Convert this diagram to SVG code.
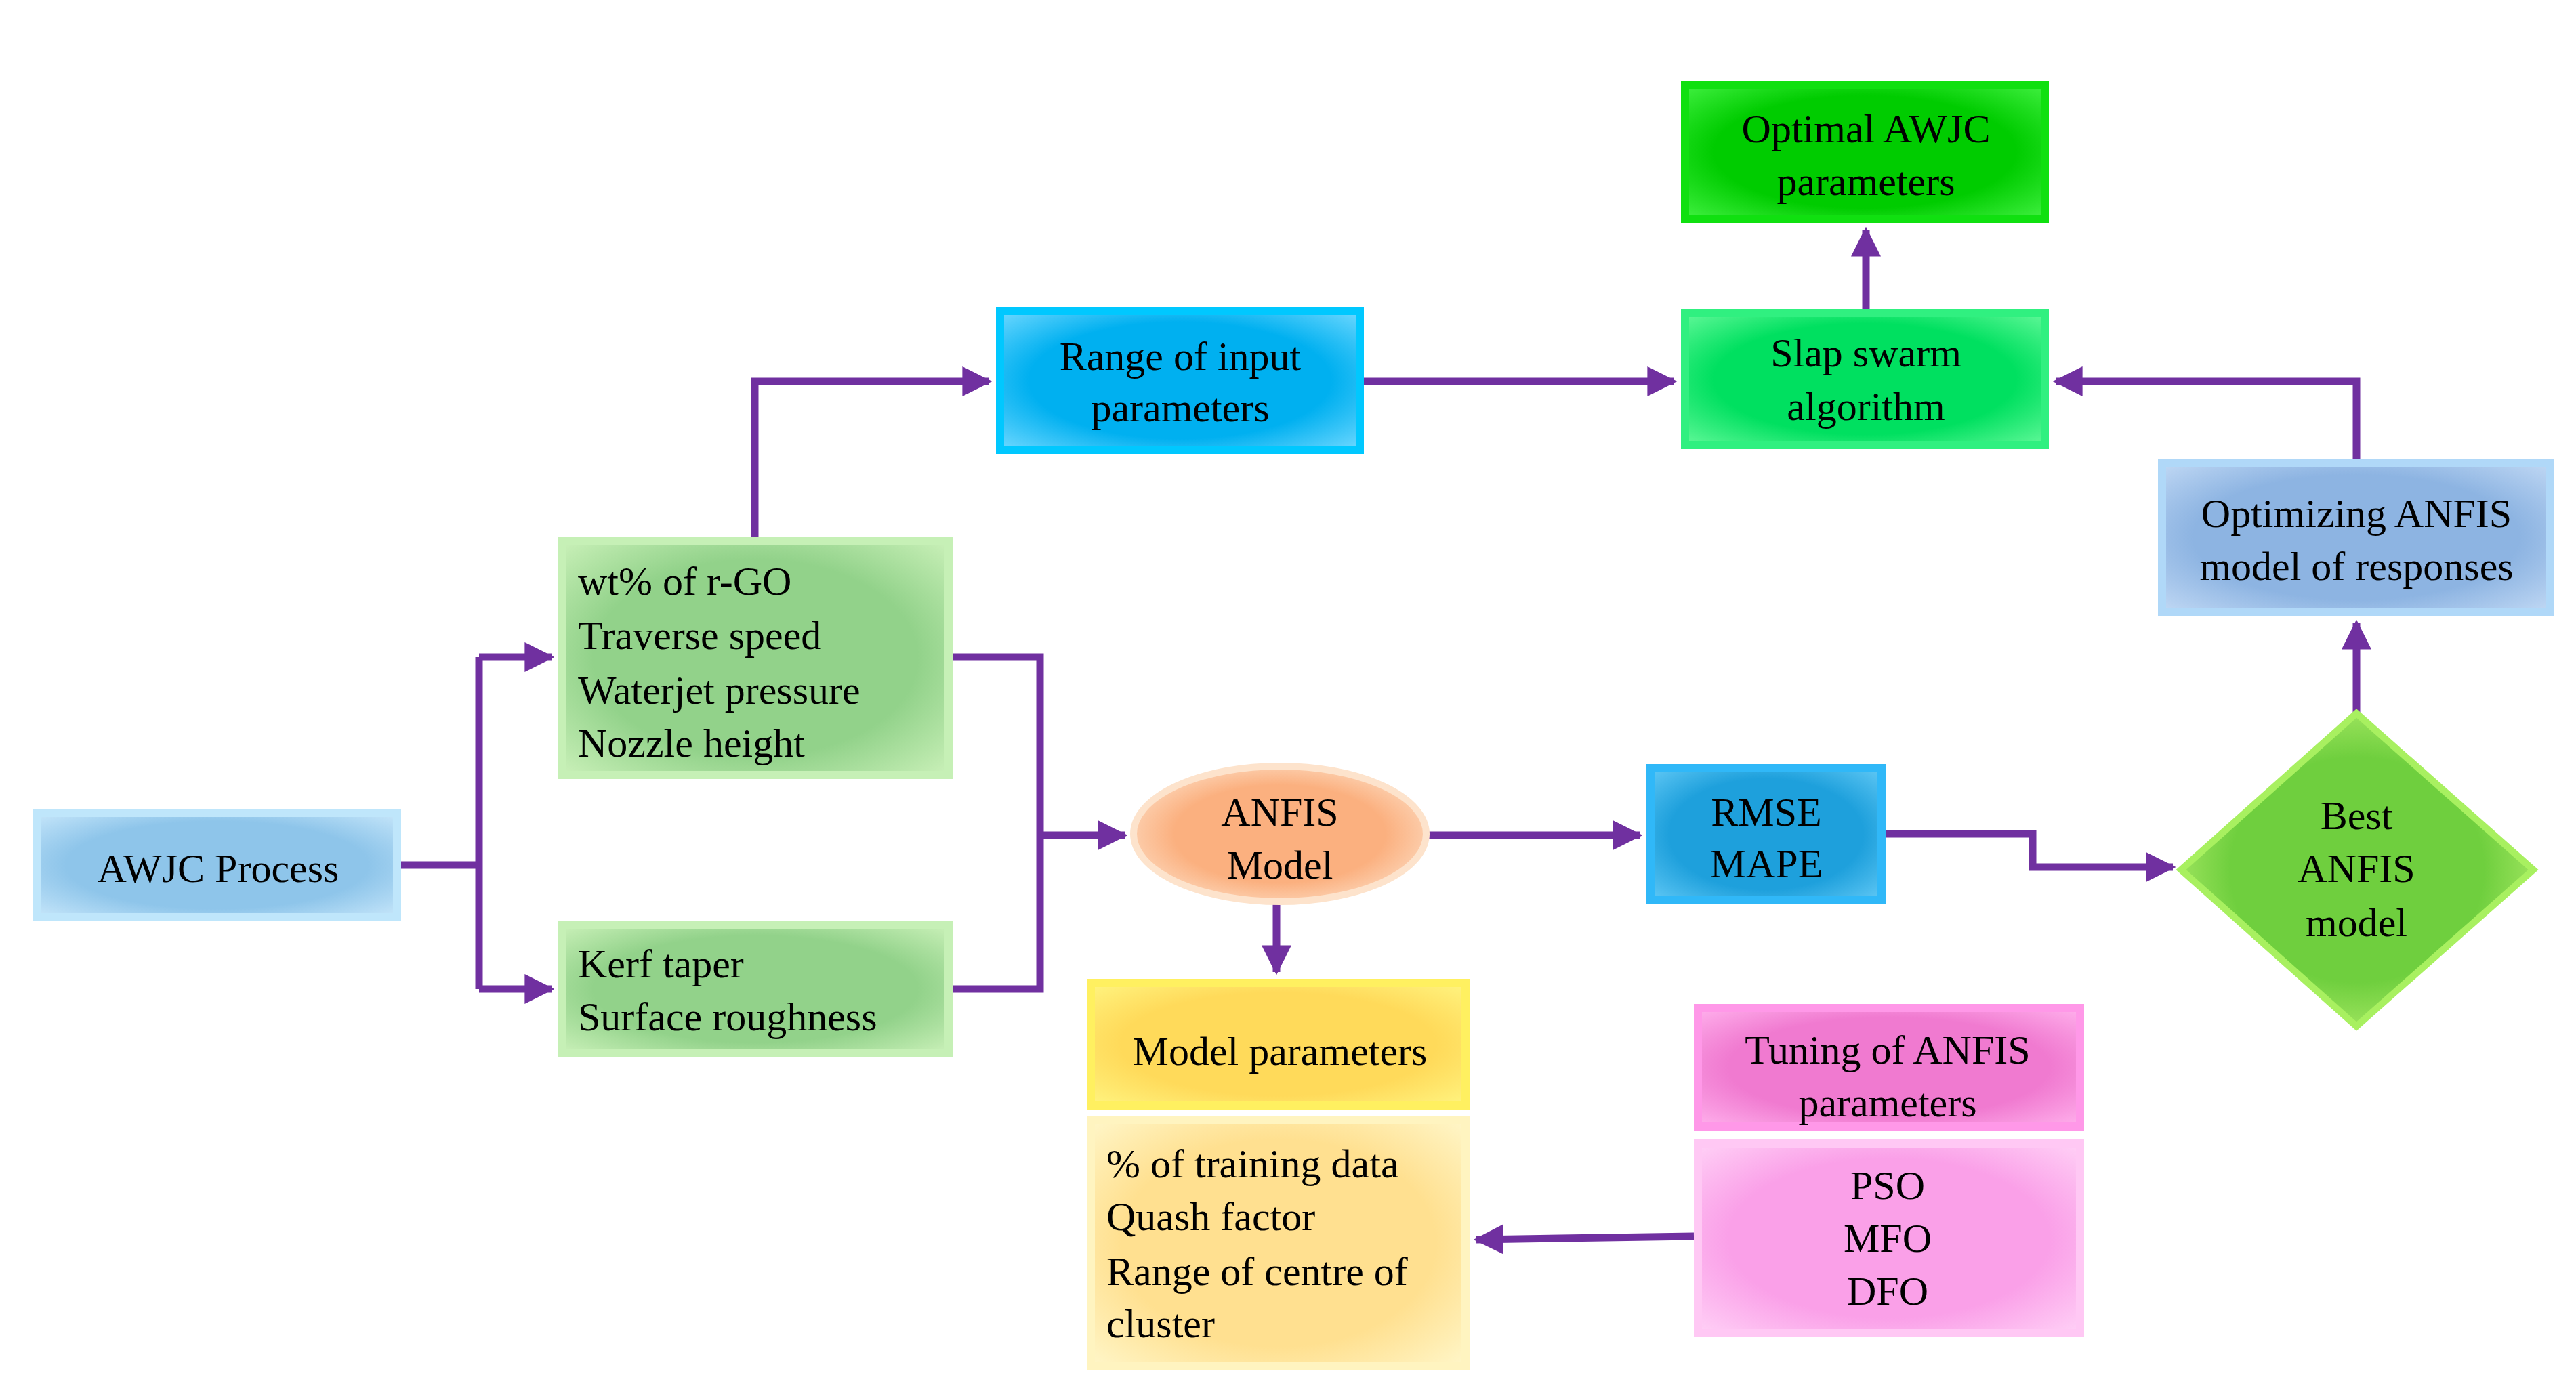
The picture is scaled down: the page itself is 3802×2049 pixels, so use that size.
<svg xmlns="http://www.w3.org/2000/svg" width="3802" height="2049" viewBox="0 0 3802 2049">
<defs>
<style>
text{font-family:"Liberation Serif","Times New Roman",serif;font-size:60px;fill:#000}
.c{text-anchor:middle}
.con{fill:none;stroke:#7030A0;stroke-width:11}
.b{stroke-width:12}
</style>
<marker id="ar" viewBox="0 0 10 10" refX="9" refY="5" markerWidth="4" markerHeight="4" markerUnits="strokeWidth" orient="auto"><path d="M0,0L10,5L0,10z" fill="#7030A0"/></marker>
<radialGradient id="gBlue" cx="50%" cy="50%" r="70%"><stop offset="0.6" stop-color="#8EC5EA"/><stop offset="1" stop-color="#C6E6FA"/></radialGradient>
<radialGradient id="gGreen" cx="50%" cy="50%" r="70%"><stop offset="0.6" stop-color="#92D28A"/><stop offset="1" stop-color="#C9F0B8"/></radialGradient>
<radialGradient id="gCyan" cx="50%" cy="50%" r="70%"><stop offset="0.6" stop-color="#00B0F0"/><stop offset="1" stop-color="#6ED8FF"/></radialGradient>
<radialGradient id="gG2" cx="50%" cy="50%" r="70%"><stop offset="0.6" stop-color="#00E060"/><stop offset="1" stop-color="#60F898"/></radialGradient>
<radialGradient id="gG3" cx="50%" cy="50%" r="70%"><stop offset="0.6" stop-color="#00CC00"/><stop offset="1" stop-color="#40F040"/></radialGradient>
<radialGradient id="gSteel" cx="50%" cy="50%" r="70%"><stop offset="0.6" stop-color="#8DB4E2"/><stop offset="1" stop-color="#C0D8F4"/></radialGradient>
<radialGradient id="gLime" cx="50%" cy="50%" r="60%"><stop offset="0.6" stop-color="#6FCF3E"/><stop offset="1" stop-color="#B8F070"/></radialGradient>
<radialGradient id="gRm" cx="50%" cy="50%" r="70%"><stop offset="0.6" stop-color="#1EA0DC"/><stop offset="1" stop-color="#60C8F5"/></radialGradient>
<radialGradient id="gOr" cx="50%" cy="50%" r="60%"><stop offset="0.6" stop-color="#FBB07F"/><stop offset="1" stop-color="#FDE0C8"/></radialGradient>
<radialGradient id="gY" cx="50%" cy="50%" r="70%"><stop offset="0.6" stop-color="#FFDA5A"/><stop offset="1" stop-color="#FFF480"/></radialGradient>
<radialGradient id="gY2" cx="50%" cy="50%" r="70%"><stop offset="0.6" stop-color="#FFE090"/><stop offset="1" stop-color="#FFF6C8"/></radialGradient>
<radialGradient id="gP" cx="50%" cy="50%" r="70%"><stop offset="0.6" stop-color="#F07AD0"/><stop offset="1" stop-color="#FFB0EC"/></radialGradient>
<radialGradient id="gP2" cx="50%" cy="50%" r="70%"><stop offset="0.6" stop-color="#FAA0E8"/><stop offset="1" stop-color="#FFD0F6"/></radialGradient>
</defs>
<rect width="3802" height="2049" fill="#fff"/>
<g id="connectors">
<path class="con" d="M592,1277H707M707,970V1460M707,970H814" marker-end="url(#ar)"/>
<path class="con" d="M707,1460H814" marker-end="url(#ar)"/>
<path class="con" d="M1114,792V563H1460" marker-end="url(#ar)"/>
<path class="con" d="M1406,970H1535V1460H1406M1535,1233H1660" marker-end="url(#ar)"/>
<path class="con" d="M2013,563H2471" marker-end="url(#ar)"/>
<path class="con" d="M2754,456V339" marker-end="url(#ar)"/>
<path class="con" d="M3478,677V563H3034" marker-end="url(#ar)"/>
<path class="con" d="M3478,1053V919" marker-end="url(#ar)"/>
<path class="con" d="M2108,1233H2420" marker-end="url(#ar)"/>
<path class="con" d="M2783,1231H3000V1280H3207" marker-end="url(#ar)"/>
<path class="con" d="M1884,1333V1435" marker-end="url(#ar)"/>
<path class="con" d="M2500,1825L2179,1830" marker-end="url(#ar)"/>
</g>
<g id="awjc"><rect x="55" y="1200" width="531" height="154" fill="url(#gBlue)" stroke="#BFE6FB" class="b"/><text x="322" y="1302" class="c">AWJC Process</text></g>
<g id="inputs"><rect x="830" y="798" width="570" height="346" fill="url(#gGreen)" stroke="#C6F0B6" class="b"/>
<text x="853" y="878">wt% of r-GO</text><text x="853" y="958">Traverse speed</text><text x="853" y="1039">Waterjet  pressure</text><text x="853" y="1117">Nozzle  height</text></g>
<g id="outputs"><rect x="830" y="1366" width="570" height="188" fill="url(#gGreen)" stroke="#C6F0B6" class="b"/>
<text x="853" y="1443">Kerf taper</text><text x="853" y="1521">Surface roughness</text></g>
<g id="range"><rect x="1476" y="459" width="531" height="205" fill="url(#gCyan)" stroke="#00C8FF" class="b"/>
<text x="1742" y="546" class="c">Range of input</text><text x="1742" y="622" class="c">parameters</text></g>
<g id="slap"><rect x="2487" y="462" width="531" height="195" fill="url(#gG2)" stroke="#30F080" class="b"/>
<text x="2754" y="541" class="c">Slap swarm</text><text x="2754" y="620" class="c">algorithm</text></g>
<g id="optimal"><rect x="2487" y="125" width="531" height="198" fill="url(#gG3)" stroke="#10E010" class="b"/>
<text x="2754" y="210" class="c">Optimal AWJC</text><text x="2754" y="288" class="c">parameters</text></g>
<g id="optanfis"><rect x="3191" y="683" width="573" height="220" fill="url(#gSteel)" stroke="#B0D8F8" class="b"/>
<text x="3478" y="778" class="c">Optimizing  ANFIS</text><text x="3478" y="856" class="c">model of responses</text></g>
<g id="best"><polygon points="3478,1053 3739,1284 3478,1515 3219,1284" fill="url(#gLime)" stroke="#A8F060" stroke-width="10"/>
<text x="3478" y="1224" class="c">Best</text><text x="3478" y="1302" class="c">ANFIS</text><text x="3478" y="1382" class="c">model</text></g>
<g id="rmse"><rect x="2436" y="1134" width="341" height="195" fill="url(#gRm)" stroke="#30B8F8" class="b"/>
<text x="2607" y="1219" class="c">RMSE</text><text x="2607" y="1295" class="c">MAPE</text></g>
<g id="anfis"><ellipse cx="1889" cy="1231" rx="216" ry="100" fill="url(#gOr)" stroke="#FDE3CC" stroke-width="10"/>
<text x="1889" y="1219" class="c">ANFIS</text><text x="1889" y="1297" class="c">Model</text></g>
<g id="modelparams"><rect x="1610" y="1451" width="553" height="181" fill="url(#gY)" stroke="#FFF060" class="b"/>
<text x="1889" y="1572" class="c">Model parameters</text></g>
<g id="modeldetails"><rect x="1610" y="1653" width="553" height="364" fill="url(#gY2)" stroke="#FFF4C0" class="b"/>
<text x="1633" y="1738">% of training  data</text><text x="1633" y="1816">Quash factor</text><text x="1633" y="1897">Range of centre of</text><text x="1633" y="1974">cluster</text></g>
<g id="tuning"><rect x="2506" y="1488" width="564" height="175" fill="url(#gP)" stroke="#FF98E8" class="b"/>
<text x="2786" y="1570" class="c">Tuning  of ANFIS</text><text x="2786" y="1648" class="c">parameters</text></g>
<g id="algos"><rect x="2506" y="1688" width="564" height="280" fill="url(#gP2)" stroke="#FFC8F4" class="b"/>
<text x="2786" y="1770" class="c">PSO</text><text x="2786" y="1848" class="c">MFO</text><text x="2786" y="1926" class="c">DFO</text></g>
</svg>
